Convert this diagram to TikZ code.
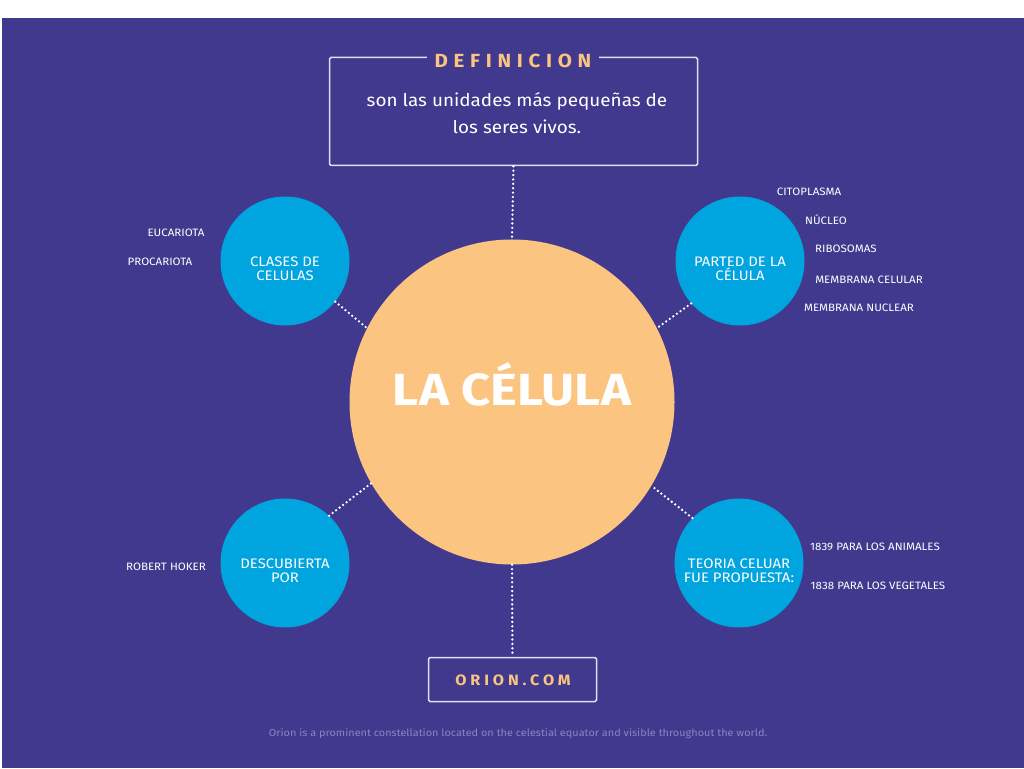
\documentclass[tikz,border=0pt]{standalone}
\usepackage{fontspec}
\setmainfont{Fira Sans}[FakeStretch=1.08]
\definecolor{bg}{RGB}{65,57,141}
\definecolor{orange}{RGB}{251,196,128}
\definecolor{cblue}{RGB}{0,164,222}
\definecolor{foot}{RGB}{140,132,196}
\definecolor{boxline}{RGB}{225,222,245}
\tikzset{
  every node/.style={inner sep=0pt},
  bubble/.style={circle, fill=cblue, minimum size=129pt},
  bubtext/.style={text=white, align=center, font=\fontsize{13.8}{14}\selectfont},
  item/.style={text=white, font=\fontsize{10.7}{12}\selectfont},
  dots/.style={white, line width=2.6pt, line cap=round, dash pattern=on 0pt off 4.4pt},
  framebox/.style={draw=boxline, line width=1.5pt, rounded corners=1.5pt},
}
\begin{document}
\begin{tikzpicture}[x=1pt,y=1pt]
\useasboundingbox (0,0) rectangle (1024,768);
\fill[white] (0,0) rectangle (1024,768);
\fill[bg] (2,0) rectangle (1024,750);

% main circle
\node[circle, fill=orange, minimum size=325pt] (cel) at (512,366) {};
\node[text=white, font=\fontsize{45}{45}\selectfont\bfseries\addfontfeature{FakeStretch=1.13}] (celt) at (512,384) {LA CÉLULA};

% bubbles
\node[bubble] (tl) at (285,507) {};
\node[bubble] (tr) at (740,507) {};
\node[bubble] (bl) at (285,205) {};
\node[bubble] (br) at (739,205) {};
\node[bubtext] (tlt) at ([yshift=-8pt]tl.center) {CLASES DE\\CELULAS};
\node[bubtext] (trt) at ([yshift=-8pt]tr.center) {PARTED DE LA\\CÉLULA};
\node[bubtext] (blt) at ([yshift=-8pt]bl.center) {DESCUBIERTA\\POR};
\node[bubtext] (brt) at ([yshift=-8pt]br.center) {TEORIA CELUAR\\FUE PROPUESTA:};

% definicion box
\node[framebox, minimum width=368pt, minimum height=108pt] (def) at (513.5,656.5) {};
\node[fill=bg, inner xsep=8pt, inner ysep=2pt, text=orange,
  font=\fontsize{19}{19}\selectfont\bfseries\addfontfeature{LetterSpace=30}] (deft) at (513,707) {DEFINICION};
\node[text=white, align=center, font=\fontsize{17.5}{27}\selectfont] (defb) at (517,655)
  {son las unidades más pequeñas de\\los seres vivos.};

% orion box
\node[framebox, minimum width=168pt, minimum height=44pt] (orion) at (512.5,88.5) {};
\node[text=orange, font=\fontsize{15}{15}\selectfont\bfseries\addfontfeature{LetterSpace=26}] (oriont) at (513,88) {ORION.COM};

% footer
\node[text=foot, font=\fontsize{10.1}{12}\selectfont] (footer) at (518,34)
  {Orion is a prominent constellation located on the celestial equator and visible throughout the world.};

% items
\node[item] (eu) at (176,535) {EUCARIOTA};
\node[item] (pro) at (160,506) {PROCARIOTA};
\node[item] (cito) at (809,576) {CITOPLASMA};
\node[item] (nuc) at (826,548) {NÚCLEO};
\node[item] (ribo) at (846,519) {RIBOSOMAS};
\node[item] (memc) at (869,488) {MEMBRANA CELULAR};
\node[item] (memn) at (859,460) {MEMBRANA NUCLEAR};
\node[item] (a1839) at (875,221) {1839 PARA LOS ANIMALES};
\node[item] (a1838) at (878,182) {1838 PARA LOS VEGETALES};
\node[item] (rob) at (166,201) {ROBERT HOKER};

% connectors
\draw[dots] (def.south) -- (cel.north);
\draw[dots] (cel.south) -- (orion.north);
\draw[dots] (tl.-39) -- (cel.153);
\draw[dots] (tr.-139) -- (cel.27);
\draw[dots] (bl.47) -- (cel.210);
\draw[dots] (br.136) -- (cel.-31);
\end{tikzpicture}
\end{document}
